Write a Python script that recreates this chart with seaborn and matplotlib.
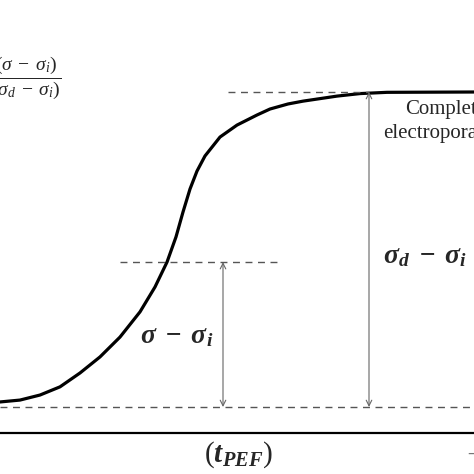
import matplotlib
matplotlib.use("Agg")
import matplotlib.pyplot as plt
import seaborn as sns
import pandas as pd

# curve: time (arb. units) vs normalised conductivity
t_curve = [0, 0.20, 0.40, 0.60, 0.80, 1.00, 1.20, 1.40, 1.55, 1.67, 1.76, 1.83,
           1.90, 1.97, 2.05, 2.20, 2.37, 2.57, 2.70, 2.88, 3.03, 3.37, 3.60, 3.87, 4.74]
r_curve = [0.016, 0.022, 0.038, 0.064, 0.108, 0.159, 0.222, 0.302, 0.381, 0.460,
           0.540, 0.619, 0.692, 0.749, 0.797, 0.857, 0.895, 0.927, 0.946, 0.962,
           0.971, 0.987, 0.995, 0.999, 1.0]

# reference levels (sigma_i, sigma, sigma_d) and where they are marked
level_i = 0.0
level_s = 0.46
level_d = 1.0
t_sigma = 2.23
t_sigmad = 3.69

sns.set_theme(style="white")
plt.rcParams["mathtext.fontset"] = "custom"
plt.rcParams["mathtext.rm"] = "Liberation Serif"
plt.rcParams["mathtext.it"] = "Liberation Serif:italic"
plt.rcParams["mathtext.bf"] = "Liberation Serif:italic:bold"

fig = plt.figure(figsize=(4.74, 4.74), dpi=100)
ax = fig.add_axes([0, 0, 1, 1])

df = pd.DataFrame({"t": t_curve, "r": r_curve})
sns.lineplot(data=df, x="t", y="r", color="black", lw=2.3, ax=ax)

dash = dict(color="#555555", lw=1.0, ls=(0, (5, 4)))
ax.hlines(level_i, 0, 4.74, **dash)
ax.hlines(level_s, 1.20, 2.77, **dash)
ax.hlines(level_d, 2.28, t_sigmad, **dash)

# time axis
ax.axhline(-0.0825, color="black", lw=1.6)

arrow = dict(arrowstyle="<->", color="#666666", lw=0.8, shrinkA=0, shrinkB=0,
             mutation_scale=10)
ax.annotate("", xy=(t_sigma, level_s), xytext=(t_sigma, level_i), arrowprops=arrow)
ax.annotate("", xy=(t_sigmad, level_d), xytext=(t_sigmad, level_i), arrowprops=arrow)

ax.text(1.765, 0.229, r"$\mathbf{\sigma\;-\;\sigma_i}$", fontsize=20,
        ha="center", va="center")
ax.text(4.25, 0.483, r"$\mathbf{\sigma_d\;-\;\sigma_i}$", fontsize=20,
        ha="center", va="center")
ax.text(4.46, 0.905, "Complete\nelectroporation", family="Liberation Serif",
        fontsize=15, ha="center", va="center", linespacing=1.35)
ax.text(0.61, 1.044, r"$\dfrac{(\sigma\;-\;\sigma_i)}{(\sigma_d\;-\;\sigma_i)}$",
        fontsize=14, ha="right", va="center")
ax.text(2.38, -0.152, r"$(\mathbf{t_{PEF}})$", fontsize=21,
        ha="center", va="center")
ax.text(4.71, -0.146, "–", fontsize=11, color="#777777", ha="center", va="center")

ax.set_xlim(0, 4.74)
ax.set_ylim(-0.2127, 1.2921)
ax.axis("off")

fig.savefig("out.png", dpi=100)
